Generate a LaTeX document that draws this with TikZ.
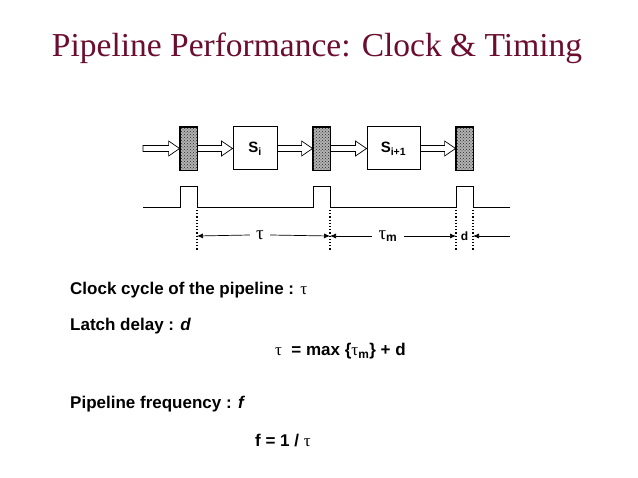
\documentclass[tikz,border=0pt]{standalone}
\usepackage{fontspec}
\setmainfont{Liberation Serif}
\newfontfamily\arialf{Liberation Sans}
\usetikzlibrary{patterns,arrows.meta,calc}
\definecolor{titlered}{HTML}{6B0D2E}
\newcommand{\ta}{{\rmfamily\mdseries\selectfont τ}}
\newcommand{\harrow}[2]{%
  \draw[line width=0.7pt,fill=white,line join=miter]
   let \p1=(#1), \p2=(#2) in
   (\x1,\y1-3) -- (\x2-11,\y1-3) -- (\x2-11,\y1-7.5) -- (\x2,\y1) -- (\x2-11,\y1+7.5) -- (\x2-11,\y1+3) -- (\x1,\y1+3) -- cycle;}
\begin{document}
\begin{tikzpicture}[x=1pt,y=-1pt,
  latch/.style={draw,line width=0.8pt,minimum width=17pt,minimum height=43pt,inner sep=0pt},
  stagebox/.style={draw,line width=1pt,fill=white,minimum height=43pt,inner sep=0pt,font=\arialf\bfseries\fontsize{15}{17}\selectfont},
  dim/.style={-{Latex[length=6pt,width=5pt]},line width=0.7pt},
  dline/.style={dotted,line width=1.2pt},
  body/.style={anchor=base west,font=\arialf\bfseries\fontsize{17}{20}\selectfont,inner sep=0pt}]
\useasboundingbox (0,0) rectangle (638,478);
\node[font=\fontsize{33.5}{38}\selectfont,text=titlered] (title) at (317,48) {Pipeline Performance: Clock \& Timing};
% latches
\foreach \n/\x in {l1/188.5,l2/321.5,l3/464.5}{
  \node[latch,fill=gray!60] (\n) at (\x,148.5) {};
  \fill[pattern=crosshatch dots,pattern color=black!85] (\n.south west) rectangle (\n.north east);
  \draw[line width=0.8pt] (\n.south west) rectangle (\n.north east);
}
\node[stagebox,minimum width=44pt] (s1) at (255,148.5) {S\textsubscript{i}};
\node[stagebox,minimum width=53pt] (s2) at (393.5,148.5) {S\textsubscript{i+1}};
\coordinate (in) at (143,148.5);
\harrow{in}{l1.west}
\harrow{l1.east}{s1.west}
\harrow{s1.east}{l2.west}
\harrow{l2.east}{s2.west}
\harrow{s2.east}{l3.west}
% clock
\draw[line width=0.6pt] (143,207) -- (180,207) -- (180,186) -- (197,186) -- (197,207) -- (313,207) -- (313,186) -- (330,186) -- (330,207) -- (456,207) -- (456,186) -- (473,186) -- (473,207) -- (510,207);
% dotted lines
\foreach \n/\x in {a/197,b/330,c/456,e/473}{
  \coordinate (\n t) at (\x,210); \coordinate (\n b) at (\x,250);
  \draw[dline] (\n t) -- (\n b);
  \coordinate (\n m) at (\x,236);
}
\node[font=\fontsize{19}{20}\selectfont,inner sep=6pt] (tau) at (260,235) {τ};
\node[font=\fontsize{19}{20}\selectfont,inner sep=6pt] (taum) at (388,236) {τ\textsubscript{\arialf\bfseries\fontsize{12}{12}\selectfont m}};
\node[font=\arialf\bfseries\fontsize{12}{13}\selectfont,inner sep=1pt] (dd) at (464.5,236) {d};
\coordinate (rt) at (510,236);
\draw[dim] (tau.west) -- (am);
\draw[dim] (tau.east) -- (bm);
\draw[dim] (taum.west) -- (bm);
\draw[dim] (taum.east) -- (cm);
\draw[dim] (rt) -- (em);
% text
\node[body] (t1) at (70,295) {Clock cycle of the pipeline : \ta};
\node[body] (t2) at (70,331) {Latch delay : \textit{d}};
\node[body] (t3) at (275,356) {\ta\ \ = max \{\ta\textsubscript{m}\} + d};
\node[body] (t4) at (70,409) {Pipeline frequency : \textit{f}};
\node[body] (t5) at (255,447) {f = 1 / \ta};
\end{tikzpicture}
\end{document}
